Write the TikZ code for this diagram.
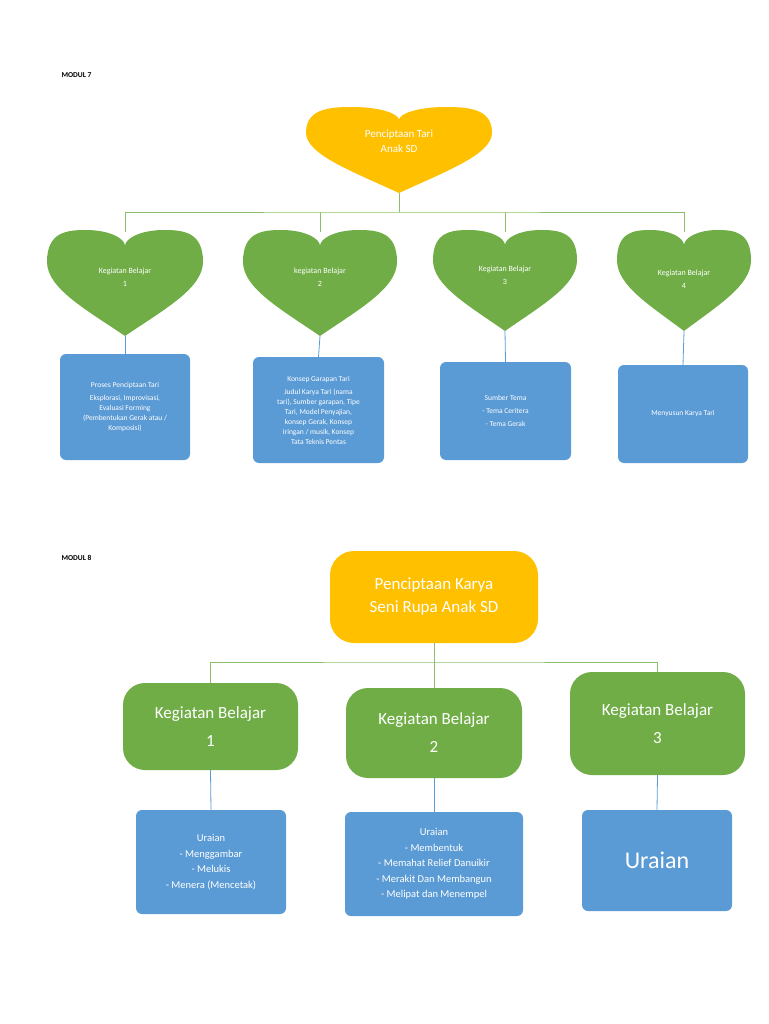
\documentclass[tikz,border=0pt]{standalone}
\usepackage{fontspec}
\setmainfont{Carlito}
\definecolor{gr}{HTML}{70AD47}
\definecolor{org}{HTML}{FFC000}
\definecolor{bl}{HTML}{5B9BD5}
\definecolor{ln}{HTML}{8BBF6A}
\definecolor{lb}{HTML}{5B9BD5}
\newcommand\myheart[5]{% cx, top, w(half), h, color
\fill[#5] (#1,#2+#4) .. controls (#1-0.5*#3,#2+0.75*#4) and (#1-#3,#2+0.55*#4) .. (#1-#3,#2+0.3*#4)
 .. controls (#1-#3,#2+0.02*#4) and (#1-0.75*#3,#2) .. (#1-0.5*#3,#2)
 .. controls (#1-0.2*#3,#2) and (#1,#2+0.08*#4) .. (#1,#2+0.15*#4)
 .. controls (#1,#2+0.08*#4) and (#1+0.2*#3,#2) .. (#1+0.5*#3,#2)
 .. controls (#1+0.75*#3,#2) and (#1+#3,#2+0.02*#4) .. (#1+#3,#2+0.3*#4)
 .. controls (#1+#3,#2+0.55*#4) and (#1+0.5*#3,#2+0.75*#4) .. (#1,#2+#4) -- cycle;}
\begin{document}
\begin{tikzpicture}[x=1pt,y=-1pt,
 ht/.style={text=white,align=center,font=\fontsize{8}{13}\selectfont},
 bx/.style={fill=bl,rounded corners=6pt,text=white,align=center,font=\fontsize{7.5}{10}\selectfont,inner sep=2pt},
 gbx/.style={fill=gr,rounded corners=22pt,text=white,align=center,font=\fontsize{17}{28}\selectfont},
 bbx/.style={fill=bl,rounded corners=6pt,text=white,align=center,font=\fontsize{10.5}{15.5}\selectfont},
 gl/.style={draw=ln,line width=0.8pt},
 bline/.style={draw=lb,line width=0.8pt},
 lab/.style={font=\bfseries\fontsize{7.5}{9}\selectfont,anchor=west}]
\useasboundingbox (0,0) rectangle (768,1024);
\node[lab] (m7) at (58,75) {MODUL 7};
\node[lab] (m8) at (58,558) {MODUL 8};
% Modul 7 hearts
\myheart{399}{107}{93}{86}{org}
\myheart{125}{230}{78}{106}{gr}
\myheart{320}{230}{77}{106}{gr}
\myheart{505}{230}{72}{101}{gr}
\myheart{684}{230}{67}{101}{gr}
\node[ht,font=\fontsize{11}{15}\selectfont] (t0) at (399,141) {Penciptaan Tari\\Anak SD};
\node[ht] (h1) at (125,277) {Kegiatan Belajar\\1};
\node[ht] (h2) at (320,277) {kegiatan Belajar\\2};
\node[ht] (h3) at (505,275) {Kegiatan Belajar\\3};
\node[ht] (h4) at (684,279) {Kegiatan Belajar\\4};
\coordinate (tip0) at (399,193);
\coordinate (top1) at (125,232); \coordinate (top2) at (320,232);
\coordinate (top3) at (505,232); \coordinate (top4) at (684,232);
\coordinate (tip1) at (125,336); \coordinate (tip2) at (320,336);
\coordinate (tip3) at (505,331); \coordinate (tip4) at (684,331);
\draw[gl] (tip0) -- (399,212);
\draw[gl] (top1) |- (399,212) -| (top4);
\draw[gl] (top2) -- (320,212);
\draw[gl] (top3) -- (505,212);
\node[bx,minimum width=130pt,minimum height=106pt] (b1) at (125,407) {Proses Penciptaan Tari\\[3pt]Eksplorasi, Improvisasi,\\Evaluasi Forming\\(Pembentukan Gerak atau /\\Komposisi)};
\node[bx,minimum width=131pt,minimum height=106pt] (b2) at (318.5,410) {Konsep Garapan Tari\\[3pt]Judul Karya Tari (nama\\tari), Sumber garapan, Tipe\\Tari, Model Penyajian,\\konsep Gerak, Konsep\\iringan / musik, Konsep\\Tata Teknis Pentas};
\node[bx,minimum width=131pt,minimum height=98pt] (b3) at (505.5,411) {Sumber Tema\\[3pt]- Tema Ceritera\\[3pt]- Tema Gerak};
\node[bx,minimum width=130pt,minimum height=98pt] (b4) at (683,414) {Menyusun Karya Tari};
\draw[bline] (tip1) -- (b1.north);
\draw[bline] (tip2) -- (b2.north);
\draw[bline] (tip3) -- (b3.north);
\draw[bline] (tip4) -- (b4.north);
% Modul 8
\node[fill=org,rounded corners=24pt,minimum width=208pt,minimum height=92pt,text=white,align=center,font=\fontsize{17}{23}\selectfont] (p8) at (434,597) {Penciptaan Karya\\Seni Rupa Anak SD};
\node[gbx,minimum width=175pt,minimum height=87pt] (g1) at (210.5,726.5) {Kegiatan Belajar\\1};
\node[gbx,minimum width=176pt,minimum height=90pt] (g2) at (434,733) {Kegiatan Belajar\\2};
\node[gbx,minimum width=175pt,minimum height=103pt] (g3) at (657.5,723.5) {Kegiatan Belajar\\3};
\draw[gl] (p8.south) -- (434,662);
\draw[gl] (g1.north) |- (434,662) -| (g3.north);
\draw[gl] (g2.north) -- (434,662);
\node[bbx,minimum width=150pt,minimum height=104pt] (c1) at (211,862) {Uraian\\- Menggambar\\- Melukis\\- Menera (Mencetak)};
\node[bbx,minimum width=178pt,minimum height=104pt] (c2) at (434,864) {Uraian\\- Membentuk\\- Memahat Relief Danuikir\\- Merakit Dan Membangun\\- Melipat dan Menempel};
\node[bbx,minimum width=150pt,minimum height=101pt,font=\fontsize{24}{28}\selectfont] (c3) at (657,860.5) {Uraian};
\draw[bline] (g1.south) -- (c1.north);
\draw[bline] (g2.south) -- (c2.north);
\draw[bline] (g3.south) -- (c3.north);
\end{tikzpicture}
\end{document}
